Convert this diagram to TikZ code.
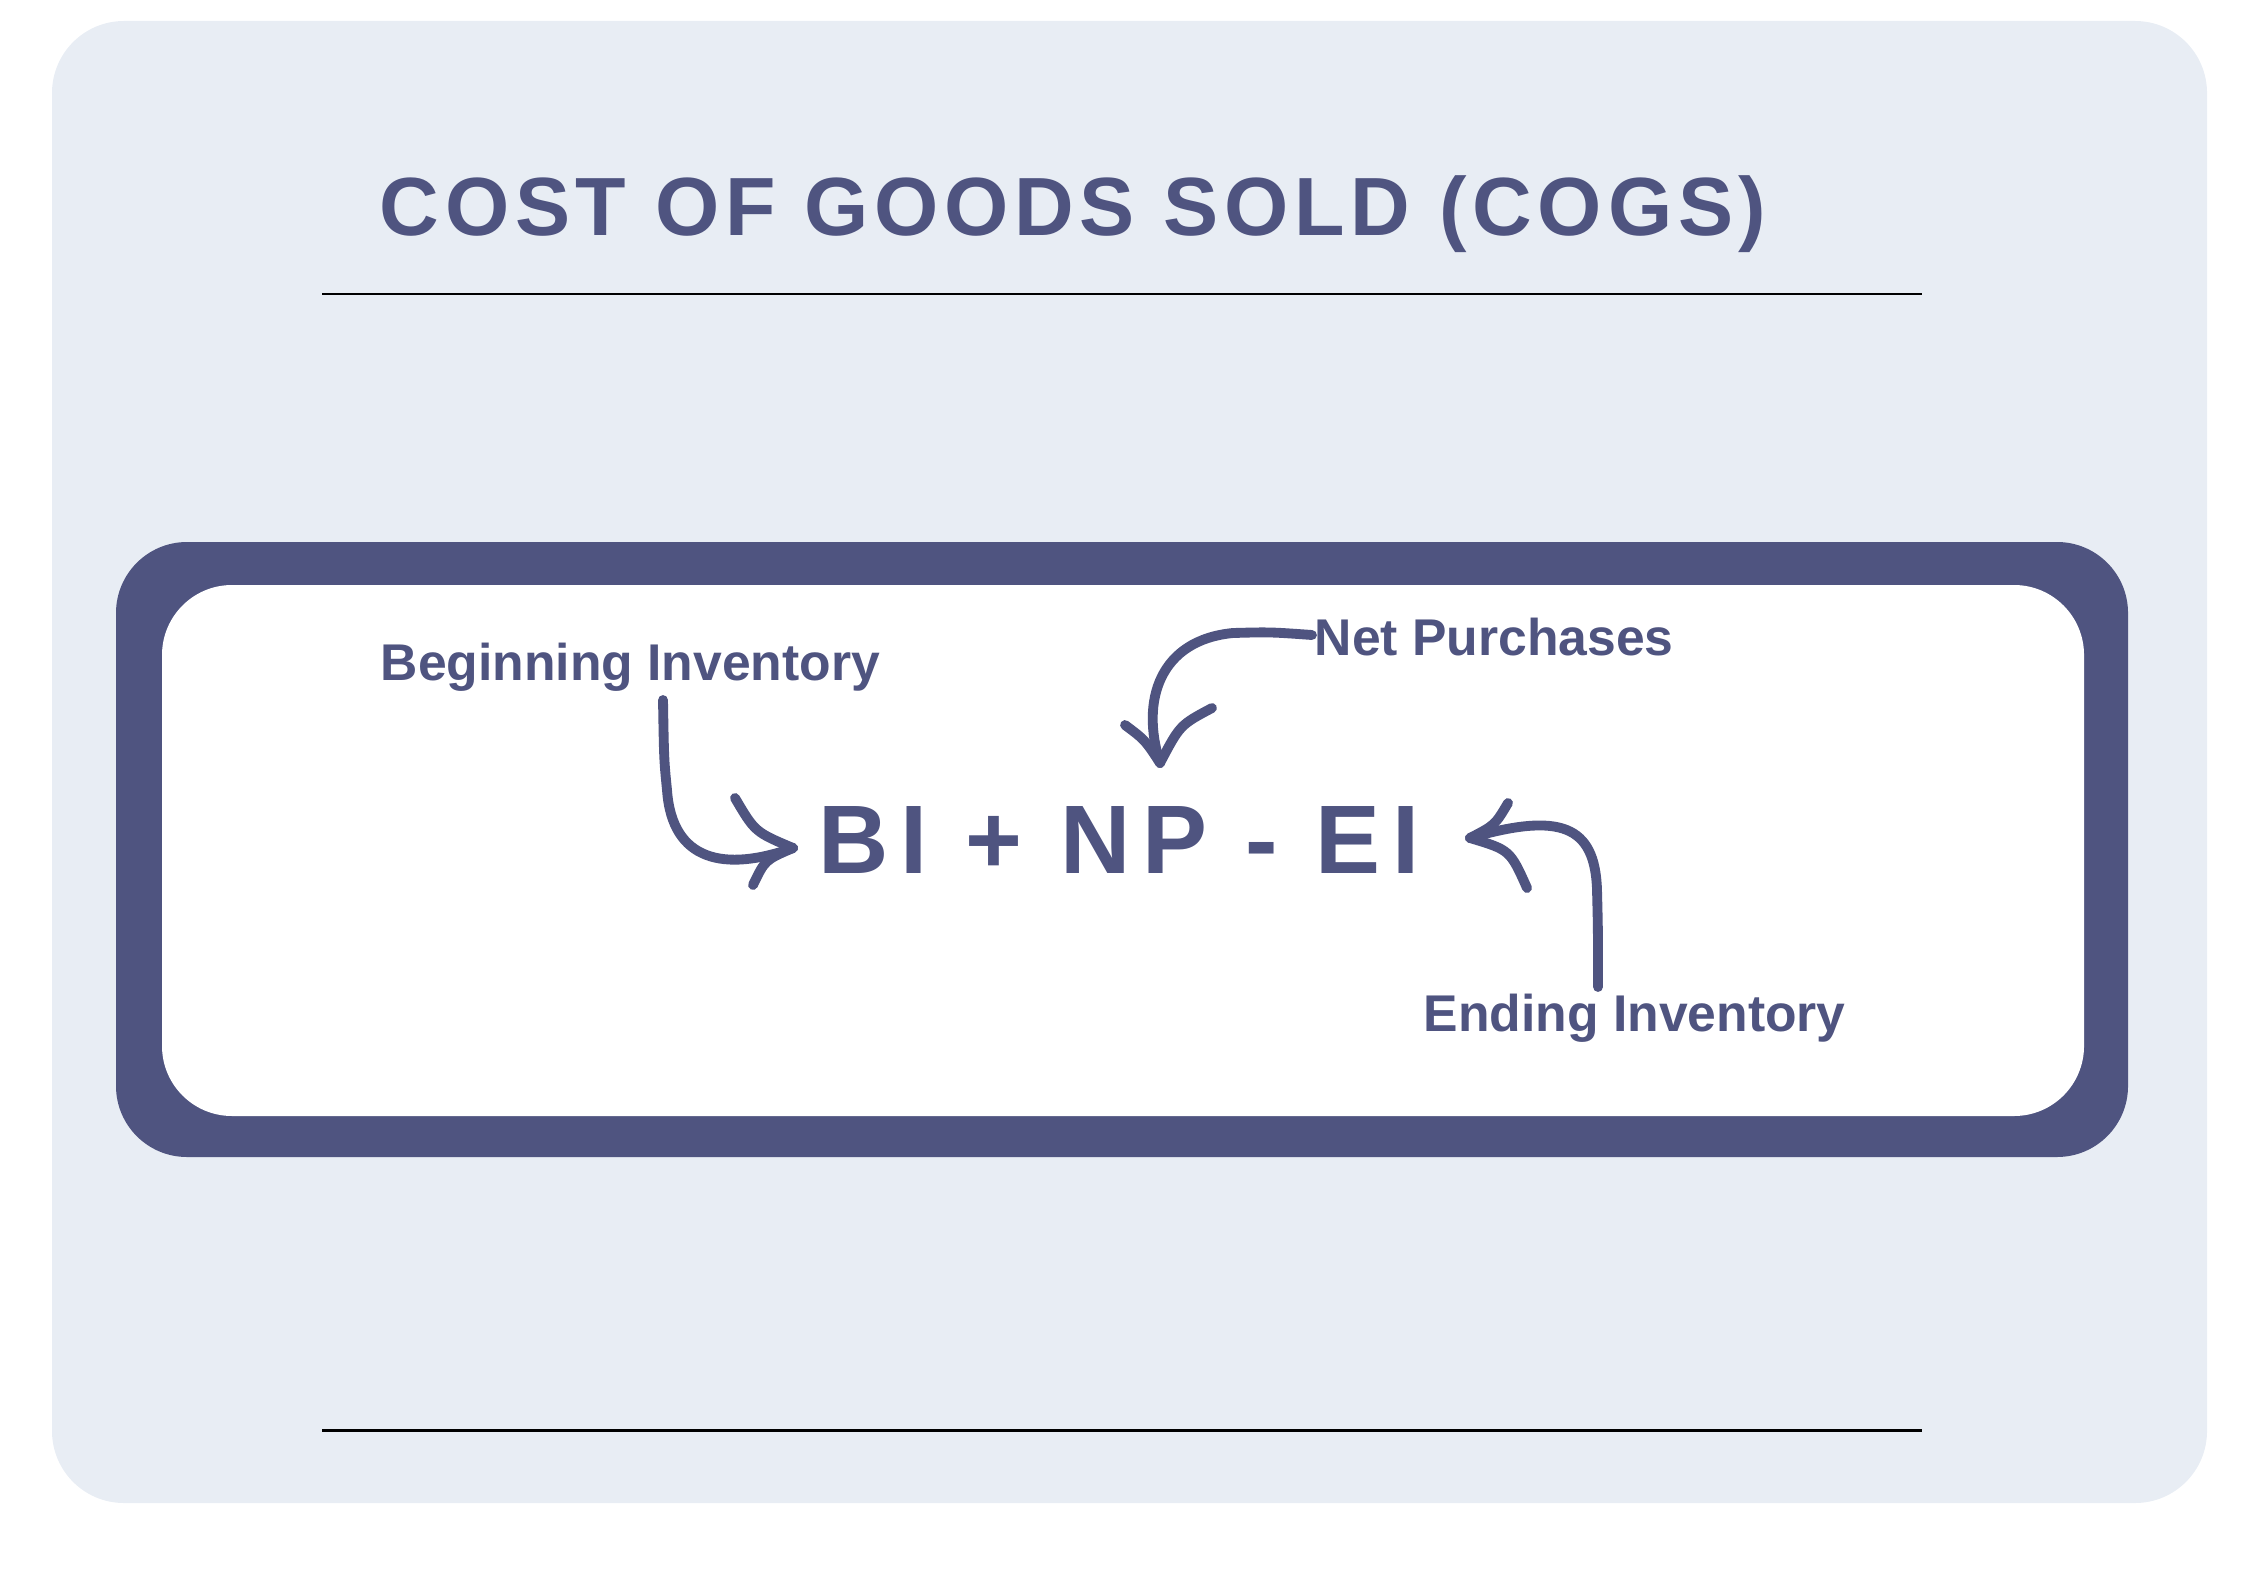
\documentclass[tikz,border=0pt]{standalone}
\usepackage{xcolor}
\usepackage{fontspec}
\setmainfont{Liberation Sans}
\usepackage{tikz}

\definecolor{cogsnavy}{RGB}{79,84,128}
\definecolor{cogsbg}{RGB}{232,237,244}

\begin{document}
\begin{tikzpicture}[x=0.1mm, y=-0.1mm,
	label/.style={text=cogsnavy, font=\bfseries\fontsize{14.7}{16}\selectfont, inner sep=0pt, anchor=base west},
	sketch/.style={draw=cogsnavy, line width=2.8pt, line cap=round, line join=round},
	rule/.style={draw=black, line width=0.85pt}]
	\useasboundingbox (0,0) rectangle (2245,1587);

	%Bakgrunn og ramme
	\fill[cogsbg, rounded corners=7.2mm] (52,21) rectangle (2207,1503);
	\fill[cogsnavy, rounded corners=7.1mm] (116,542) rectangle (2128,1157);
	\fill[white, rounded corners=7mm] (162,585) rectangle (2084,1116);

	%Tittel og linjer
	\node[text=cogsnavy, inner sep=0pt, anchor=base west, font=\bfseries\fontsize{23.5}{26}\selectfont\addfontfeature{LetterSpace=7}] (title) at (379,236) {COST OF GOODS SOLD (COGS)};
	\coordinate (topL) at (322,294);
	\coordinate (topR) at (1922,294);
	\coordinate (botL) at (322,1430);
	\coordinate (botR) at (1922,1430);
	\draw[rule] (topL) -- (topR);
	\draw[rule] (botL) -- (botR);

	%Formel og merkelapper
	\node[text=cogsnavy, inner sep=0pt, anchor=base west, font=\bfseries\fontsize{27.7}{30}\selectfont\addfontfeature{LetterSpace=11.5}] (formula) at (818,873) {BI + NP - EI};
	\node[label] (bi) at (380,680) {Beginning Inventory};
	\node[label] (np) at (1314,655) {Net Purchases};
	\node[label] (ei) at (1423,1031) {Ending Inventory};

	%Piler
	\coordinate (bistart) at (663,700);
	\coordinate (bitip) at (793,848);
	\coordinate (npstart) at (1312,635);
	\coordinate (nptip) at (1160,763);
	\coordinate (eistart) at (1598,987);
	\coordinate (eitip) at (1470,838);

	\draw[sketch] (bistart) .. controls (664,760) .. (667,790) .. controls (672,862) and (725,872) .. (bitip);
	\draw[sketch] (735,798) .. controls (755,832) .. (bitip);
	\draw[sketch] (753,885) .. controls (765,860) .. (bitip);

	\draw[sketch] (npstart) .. controls (1270,632) .. (1233,633) .. controls (1160,640) and (1140,700) .. (nptip);
	\draw[sketch] (1125,725) .. controls (1145,740) .. (nptip);
	\draw[sketch] (1212,708) .. controls (1180,725) .. (nptip);

	\draw[sketch] (eistart) .. controls (1598,930) .. (1597,890) .. controls (1595,825) and (1560,812) .. (eitip);
	\draw[sketch] (1508,803) .. controls (1495,825) .. (eitip);
	\draw[sketch] (1527,888) .. controls (1510,850) .. (eitip);
\end{tikzpicture}
\end{document}
